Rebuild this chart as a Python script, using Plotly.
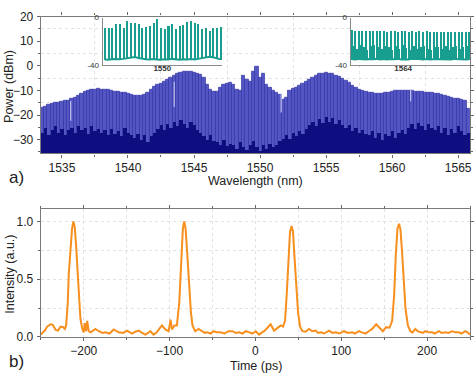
import plotly.graph_objects as go
import numpy as np

FONT = "Liberation Sans, Arial, sans-serif"

# ---------------- panel a) : optical frequency comb spectrum ----------------
comb_start_nm = 1533.5
comb_step_nm = 0.25
spec_base_dbm = -36.0

comb_peak_dbm = [
    -17.0, -16.5, -15.6, -15.2, -15.0, -14.8, -14.5, -14.2,
    -14.0, -13.4, -12.9, -12.2, -11.4, -10.6, -10.2, -9.8,
    -9.6, -9.4, -9.5, -9.6, -9.8, -10.0, -10.3, -10.5,
    -10.8, -11.1, -11.5, -11.9, -12.2, -12.2, -12.0, -11.6,
    -11.0, -9.8, -8.6, -7.8, -7.2, -6.6, -5.8, -4.9,
    -4.0, -3.3, -2.8, -2.4, -2.3, -2.5, -2.8, -3.1,
    -3.4, -4.8, -7.5, -9.6, -10.6, -10.3, -8.8, -7.8,
    -7.2, -6.8, -7.5, -9.5, -10.0, -4.0, -5.5, -6.5,
    -2.5, -0.5, -5.0, -3.0, -7.5, -9.0, -10.0, -11.0,
    -11.8, -13.8, -13.0, -10.2, -9.4, -8.7, -8.1, -7.3,
    -6.3, -5.5, -4.6, -3.9, -3.3, -3.0, -2.9, -3.0,
    -3.3, -3.8, -4.4, -5.2, -6.1, -7.0, -7.9, -8.7,
    -9.5, -10.0, -10.5, -10.8, -11.1, -11.3, -11.5, -11.3,
    -11.0, -10.8, -10.4, -10.1, -9.9, -9.9, -9.9, -10.0,
    -10.1, -10.3, -10.4, -10.5, -10.7, -10.8, -11.0, -11.3,
    -11.5, -11.9, -12.2, -12.5, -12.8, -13.2, -13.5, -13.8,
    -14.1, -17.5,
]

noise_floor_dbm = [
    -27, -25, -28, -26, -24.5, -27, -25.5, -28, -26,
    -25, -27, -24.5, -26, -25, -27.5, -24.5, -26.5, -25.5, -27,
    -26, -28, -25.5, -27.5, -26.5, -28.5, -25, -27, -28,
    -29, -27.5, -30, -28, -31, -28.5, -27,
    -25.5, -24, -26, -23.5, -25, -22.5, -24.5, -22, -23.5, -25, -22.5, -24, -26,
    -27, -28.5, -30, -28, -30.5,
    -31, -32, -30, -32.5, -31.5,
    -32, -33.5, -31, -33, -34, -32, -30.5, -33, -34.5, -32, -33.5, -31.5, -33, -32, -30.5, -29.5,
    -28, -29.5, -27, -28.5, -26.5, -27.5, -25.5,
    -24, -22.5, -24.5, -21.5, -23, -20.5, -22.5, -21, -23.5, -22, -24,
    -25, -24, -26.5, -25, -27, -26, -27.5,
    -28, -26.5, -29, -27, -30, -27.5, -28.5, -26.5, -29, -27, -26, -27.5,
    -25, -23.5, -25.5, -23, -24.5, -26, -23.5, -25,
    -26, -24.5, -27, -25, -28, -25.5, -27, -24.5, -26.5, -28, -27,
]

# light streaks visible inside the comb
streak_wl_nm = [1535.66, 1543.5, 1551.6, 1561.4]
streak_low_dbm = [-22.3, -16.7, -19.0, -14.4]
streak_high_dbm = [-14.3, -6.5, -11.5, -9.6]

# insets (zoomed comb lines around 1550 nm and 1564 nm)
inset1_peak_dbm = [-8.3, -8.3, -8.3, -5.5, -4.7, -8.3, -2.8, -4.1, -4.1, -5.5,
                   -8.3, -7.4, -6.9, -4.1, -0.8, -8.3, -9.7, -6.9, -5.5, -9.1,
                   -6.9, -6.3, -3.6, -2.8, -4.1, -5.5, -9.7, -8.3, -11.0, -8.3,
                   -8.3, -7.4]
inset1_floor_dbm = [-35.5, -35.8, -35.2, -35.6, -35.4, -35.0, -34.6, -33.8, -33.5, -34.2,
                    -35.0, -35.4, -35.6, -35.2, -35.5, -35.8, -35.3, -35.6, -35.0, -35.4,
                    -35.7, -35.3, -35.6, -35.2, -35.5, -35.0, -34.6, -34.0, -33.2, -33.6,
                    -34.8, -35.4]
inset2_peak_dbm = [-10.2, -11.0, -10.8, -11.2, -10.6, -11.0, -11.4, -10.8, -11.2, -11.0,
                   -11.5, -10.9, -11.3, -11.6, -11.0, -11.4, -11.8, -11.2, -11.6, -11.3,
                   -11.9, -11.4, -11.7, -12.0, -11.5, -11.8, -12.1, -11.6, -11.9, -12.2,
                   -11.7, -12.0, -11.8, -12.2]
inset2_shoulder_dbm = [-24, -26, -23, -25, -27, -24, -22.5, -25, -26, -23.5,
                       -25, -27, -24, -26, -23, -25.5, -27, -24, -26, -25,
                       -23.5, -26, -27, -24.5, -25, -26.5, -24, -27, -25, -23.5,
                       -26, -25, -24, -26]
inset2_floor_dbm = [-35.2, -35.5, -35.0, -35.4, -35.6, -35.1, -35.4, -35.0, -35.5, -35.2,
                    -35.6, -35.1, -35.4, -35.0, -35.5, -35.3, -35.6, -35.0, -35.4, -35.2,
                    -35.5, -35.1, -35.6, -35.3, -35.0, -35.4, -35.6, -35.2, -35.5, -35.0,
                    -35.4, -35.2, -35.6, -35.3]
inset1_label = "1550"
inset2_label = "1564"

# ---------------- panel b) : pulse train ----------------
pulse_time_ps = [
    -250, -248.5, -245, -242.6, -238.7, -236, -233, -230, -227, -224, -222, -220.5,
    -218.6, -217.4, -215.5, -213.6, -212, -210.5, -209, -207.3, -205.8, -203.9, -202,
    -200, -198.8, -197.3, -196, -194.2, -192, -190.3, -186.4, -182.6, -178, -174.8,
    -170, -165, -162, -159.3, -154, -149.6, -146, -143.8, -140, -136, -132, -128.3,
    -125, -122.4, -120.5, -118.6, -115, -112.8, -108.9, -105, -101.2, -98.8, -97.3,
    -94.5, -91.5, -88.7, -86.4, -84.5, -82.9, -81.4, -79.4, -77.1, -75.2, -73.3,
    -70.2, -66.3, -62.4, -59, -56.6, -52, -48.8, -45, -41, -36, -31.4, -26.7, -23,
    -19, -15, -11.3, -7, -3.5, 0.4, 4.3, 7, 10.1, 14, 17.8, 21.7, 25.6, 29.5, 32.2,
    34.5, 36.4, 38.4, 40.3, 42.2, 43.8, 45.3, 47.3, 49.6, 52, 54.7, 58.5, 62.4,
    66.3, 70.1, 73, 75.9, 80, 85.7, 90, 93.4, 98, 103.1, 108, 112.8, 116, 120.5,
    124, 128.3, 132, 136, 140.7, 144.6, 148.4, 152.3, 156.2, 159.3, 161.6, 163.6,
    165.5, 167.4, 169, 171, 172.9, 174.8, 177.6, 180.6, 183, 186.4, 189, 192.2,
    195, 198, 202, 205.8, 209, 213.6, 217, 221.3, 225, 229.1, 233, 236.9, 240,
    244.5, 247, 250,
]
pulse_intensity = [
    0.02, 0.03, 0.06, 0.09, 0.11, 0.105, 0.064, 0.055, 0.09, 0.085, 0.07, 0.10,
    0.30, 0.55, 0.80, 0.94, 1.0, 0.95, 0.80, 0.58, 0.36, 0.16, 0.08,
    0.04, 0.12, 0.05, 0.14, 0.05, 0.04, 0.05, 0.07, 0.05, 0.035, 0.04,
    0.03, 0.065, 0.05, 0.04, 0.035, 0.055, 0.04, 0.03, 0.045, 0.055, 0.035, 0.02,
    0.035, 0.05, 0.035, 0.02, 0.04, 0.065, 0.10, 0.065, 0.05, 0.15, 0.065,
    0.10, 0.10, 0.30, 0.72, 0.94, 1.0, 0.94, 0.72, 0.39, 0.22, 0.10,
    0.05, 0.07, 0.05, 0.035, 0.04, 0.03, 0.05, 0.04, 0.04, 0.03, 0.05, 0.05, 0.035,
    0.04, 0.03, 0.05, 0.04, 0.03, 0.05, 0.02, 0.035, 0.05, 0.08, 0.11, 0.055, 0.08, 0.10, 0.09,
    0.14, 0.36, 0.72, 0.91, 0.96, 0.91, 0.72, 0.44, 0.22, 0.09, 0.05, 0.045, 0.07,
    0.05, 0.055, 0.035, 0.04, 0.03, 0.055, 0.035, 0.04, 0.03, 0.05, 0.035, 0.04, 0.03, 0.05,
    0.04, 0.03, 0.05, 0.07, 0.11, 0.08, 0.05, 0.085, 0.08, 0.14, 0.36, 0.72,
    0.94, 0.98, 0.93, 0.72, 0.47, 0.25, 0.10, 0.05, 0.04, 0.07, 0.05, 0.04,
    0.035, 0.05, 0.04, 0.04, 0.03, 0.05, 0.035, 0.04, 0.035, 0.05, 0.04, 0.04, 0.03,
    0.05, 0.04, 0.02,
]

# ---------------- build figure ----------------
wl = comb_start_nm + comb_step_nm * np.arange(len(comb_peak_dbm))
peak = np.array(comb_peak_dbm)
floor = np.array(noise_floor_dbm)

fig = go.Figure()

fig.add_trace(go.Bar(
    x=wl, y=peak - spec_base_dbm, base=spec_base_dbm, width=comb_step_nm,
    marker=dict(color="rgb(84,86,196)", line=dict(color="rgb(50,52,166)", width=0.7)),
    xaxis="x", yaxis="y", hoverinfo="skip"))
fig.add_trace(go.Bar(
    x=wl, y=floor - spec_base_dbm, base=spec_base_dbm, width=comb_step_nm,
    marker=dict(color="rgb(14,14,128)", line=dict(width=0)),
    xaxis="x", yaxis="y", hoverinfo="skip"))

sx, sy = [], []
for w, lo, hi in zip(streak_wl_nm, streak_low_dbm, streak_high_dbm):
    sx += [w, w, None]
    sy += [lo, hi, None]
fig.add_trace(go.Scatter(x=sx, y=sy, mode="lines",
                         line=dict(color="rgb(190,192,236)", width=1.2),
                         xaxis="x", yaxis="y", hoverinfo="skip"))

TEAL = "rgb(24,158,142)"
i1 = np.arange(len(inset1_peak_dbm))
f1 = np.array(inset1_floor_dbm)
fig.add_trace(go.Bar(x=i1, y=np.array(inset1_peak_dbm) - f1, base=f1, width=0.42,
                     marker=dict(color=TEAL, line=dict(width=0)),
                     xaxis="x3", yaxis="y3", hoverinfo="skip"))
fig.add_trace(go.Scatter(x=i1, y=f1, mode="lines", line=dict(color=TEAL, width=2),
                         xaxis="x3", yaxis="y3", hoverinfo="skip"))

i2 = np.arange(len(inset2_peak_dbm))
f2 = np.array(inset2_floor_dbm)
fig.add_trace(go.Bar(x=i2 + 0.35, y=np.array(inset2_shoulder_dbm) - f2, base=f2, width=0.45,
                     marker=dict(color=TEAL, line=dict(width=0)),
                     xaxis="x4", yaxis="y4", hoverinfo="skip"))
fig.add_trace(go.Bar(x=i2, y=np.array(inset2_peak_dbm) - f2, base=f2, width=0.42,
                     marker=dict(color=TEAL, line=dict(width=0)),
                     xaxis="x4", yaxis="y4", hoverinfo="skip"))
fig.add_trace(go.Scatter(x=i2, y=f2, mode="lines", line=dict(color=TEAL, width=2),
                         xaxis="x4", yaxis="y4", hoverinfo="skip"))

fig.add_trace(go.Scatter(x=pulse_time_ps, y=pulse_intensity, mode="lines",
                         line=dict(color="rgb(247,143,30)", width=2),
                         xaxis="x2", yaxis="y2", hoverinfo="skip"))

W, H = 474, 379
def px_x(p):
    return p / W
def px_y(p):
    return 1 - p / H

XD = [px_x(41), px_x(472)]
tickfont = dict(family=FONT, size=12, color="#222")
common = dict(showline=True, linecolor="#7a7a7a", linewidth=1.3, ticks="outside",
              ticklen=3, tickcolor="#666", tickwidth=1, tickfont=tickfont,
              zeroline=False, mirror="ticks", ticklabeloverflow="allow")
def minor(dt, grid=True):
    return dict(dtick=dt, ticklen=2, tickcolor="#666", showgrid=grid,
                gridcolor="#e2e2e2", griddash="dot", gridwidth=1)

inset_y = dict(showline=True, linecolor="#8a8a8a", linewidth=1, ticks="",
               zeroline=False, showgrid=False, ticklabelstandoff=1,
               tickfont=dict(family=FONT, size=8, color="#333"))
inset_x = dict(showline=True, linecolor="#8a8a8a", linewidth=1, ticks="",
               zeroline=False, showgrid=False, ticklabelstandoff=-4,
               tickfont=dict(family=FONT, size=8, color="#333"))

fig.update_layout(
    width=W, height=H, margin=dict(l=0, r=0, t=0, b=0),
    paper_bgcolor="white", plot_bgcolor="white", showlegend=False,
    barmode="overlay", bargap=0,
    font=dict(family=FONT, color="#222"),
    xaxis=dict(domain=XD, anchor="y", range=[1533.4, 1565.9], tick0=1535, dtick=5,
               showgrid=False, minor=minor(2.5), ticklabelstandoff=0, **common),
    yaxis=dict(domain=[px_y(152), px_y(10)], anchor="x", range=[-35.6, 20], tick0=0, dtick=10,
               showgrid=False, minor=minor(5), ticklabelstandoff=1, **common),
    xaxis2=dict(domain=XD, anchor="y2", range=[-250, 250], tick0=0, dtick=100,
                showgrid=True, gridcolor="#e2e2e2", griddash="dot", minor=minor(50),
                ticklabelstandoff=-1, **common),
    yaxis2=dict(domain=[px_y(343), px_y(210)], anchor="x2", range=[-0.003, 1.106],
                tick0=0, dtick=0.5, tickformat=".1f", ticklabelstandoff=1,
                showgrid=True, gridcolor="#e2e2e2", griddash="dot", minor=minor(0.25), **common),
    xaxis3=dict(domain=[px_x(103), px_x(223)], anchor="y3", range=[-0.6, 31.4],
                tickvals=[15.4], ticktext=["<b>" + inset1_label + "</b>"], **inset_x),
    yaxis3=dict(domain=[px_y(60), px_y(11)], anchor="x3", range=[-40, 0],
                tickvals=[0, -40], ticktext=["0", "-40"], **inset_y),
    xaxis4=dict(domain=[px_x(352), px_x(472)], anchor="y4", range=[-0.3, 33.3],
                tickvals=[14.5], ticktext=["<b>" + inset2_label + "</b>"], **inset_x),
    yaxis4=dict(domain=[px_y(60), px_y(11)], anchor="x4", range=[-40, 0],
                tickvals=[0, -40], ticktext=["0", "-40"], **inset_y),
)

titlefont = dict(family=FONT, size=12.5, color="#222")
ann = [
    dict(text="Wavelength (nm)", x=px_x(257), y=px_y(181), font=titlefont),
    dict(text="Time (ps)", x=px_x(257), y=px_y(372.5), font=titlefont),
    dict(text="Power (dBm)", x=px_x(9), y=px_y(82), font=titlefont, textangle=-90),
    dict(text="Intensity (a.u.)", x=px_x(10), y=px_y(277), font=titlefont, textangle=-90),
    dict(text="a)", x=px_x(17), y=px_y(177), font=dict(family=FONT, size=17, color="#222")),
    dict(text="b)", x=px_x(17), y=px_y(368), font=dict(family=FONT, size=17, color="#222")),
]
for a in ann:
    fig.add_annotation(xref="paper", yref="paper", showarrow=False,
                       xanchor="center", yanchor="middle", borderpad=0, **a)

fig.write_html("out.html", config={"displayModeBar": False},
               post_script="document.body.style.margin='0';document.body.style.overflow='hidden';")
